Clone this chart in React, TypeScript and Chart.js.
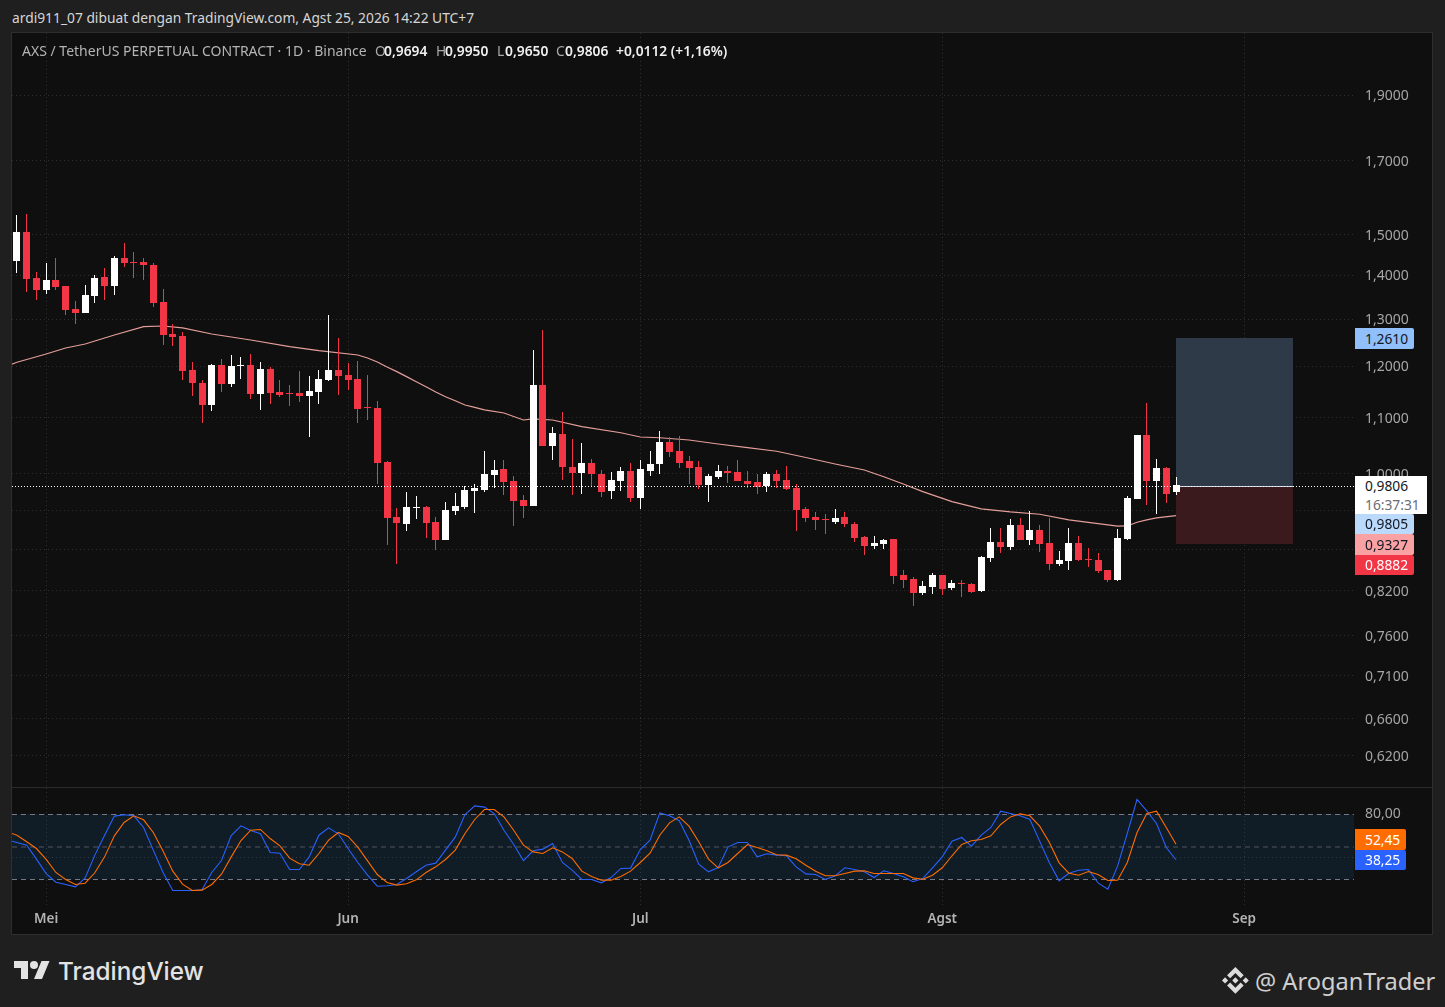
import React, { useEffect, useRef } from "react";
import { Chart, registerables } from "chart.js";

Chart.register(...registerables);

// ---- price data (AXS/USDT 1D), 28 Apr .. 25 Agst
const opens = [1.4344,1.5066,1.3936,1.3655,1.3889,1.3748,1.3222,1.3133,1.3517,1.3960,1.3748,1.4417,1.4319,1.4319,1.4247,1.3380,1.2674,1.2631,1.1923,1.1664,1.1237,1.2026,1.1644,1.2005,1.2026,1.1448,1.1943,1.1487,1.1467,1.1467,1.1409,1.1487,1.1723,1.1923,1.1823,1.1743,1.1199,1.1180,1.0203,.9295,.9185,.9438,.9454,.9216,.8939,.9390,.9454,.9713,.9730,.9980,1.0083,.9879,.9566,.9470,1.1624,1.0483,1.0698,1.0117,1.0014,1.0185,.9997,.9713,.9879,1.0048,.9599,1.0048,1.0168,1.0554,1.0395,1.0220,1.0117,.9812,.9946,1.0048,1.0031,.9879,.9862,.9796,.9997,.9896,.9763,.9422,.9295,.9264,.9216,.9295,.9185,.8985,.8849,.8879,.8954,.8425,.8368,.8172,.8255,.8425,.8241,.8311,.8297,.8200,.8671,.8909,.8834,.9170,.8939,.9092,.8894,.8583,.8627,.8894,.8657,.8642,.8497,.8353,.8954,.9583,1.0680,.9879,1.0100,.9694];
const highs = [1.5507,1.5533,1.4079,1.4295,1.4417,1.3748,1.3403,1.3772,1.4007,1.4174,1.4466,1.4788,1.4564,1.4417,1.4295,1.3678,1.2891,1.2717,1.2087,1.1723,1.2046,1.2149,1.2231,1.2190,1.2252,1.2087,1.1984,1.1723,1.1624,1.1903,1.1803,1.1923,1.3089,1.2589,1.2066,1.2107,1.1823,1.1313,1.0220,.9438,.9697,.9632,.9470,.9295,.9534,.9680,.9796,.9829,1.0395,1.0237,1.0237,.9963,.9648,1.2335,1.2760,1.0826,1.1105,1.0608,1.0536,1.0254,1.0065,1.0031,1.0117,1.0185,1.0237,1.0395,1.0752,1.0644,1.0662,1.0307,1.0220,.9997,1.0151,1.0134,1.0237,1.0048,.9997,1.0031,1.0065,1.0134,.9829,.9454,.9374,.9342,.9422,.9374,.9216,.9000,.9000,.8954,.8954,.8497,.8396,.8339,.8453,.8425,.8353,.8353,.8311,.8700,.9123,.9123,.9264,.9279,.9390,.9170,.9279,.8775,.9123,.9000,.8820,.8745,.8497,.9108,.9632,1.0680,1.1275,1.0254,1.0117,.9950];
const lows = [1.4055,1.3609,1.3426,1.3563,1.3655,1.3089,1.2891,1.3133,1.3358,1.3426,1.3540,1.4198,1.3936,1.3889,1.3267,1.2440,1.2419,1.1723,1.1409,1.0900,1.1124,1.1487,1.1585,1.1743,1.1352,1.1143,1.1256,1.1390,1.1218,1.1294,1.0644,1.1256,1.1703,1.1429,1.1525,1.0900,1.0955,.9829,.8864,.8583,.9077,.9264,.8970,.8789,.8939,.9326,.9422,.9358,.9697,.9763,.9648,.9154,.9279,.9470,1.0483,1.0237,.9896,.9648,.9664,.9796,.9616,.9583,.9713,.9534,.9422,.9963,.9997,1.0289,1.0100,.9829,.9746,.9534,.9913,.9846,.9879,.9763,.9664,.9697,.9763,.9730,.9077,.9216,.9092,.9031,.9185,.9139,.8909,.8715,.8805,.8805,.8297,.8241,.7994,.8144,.8158,.8144,.8213,.8117,.8172,.8186,.8612,.8745,.8789,.8939,.8864,.8760,.8497,.8554,.8497,.8627,.8540,.8453,.8325,.8339,.8939,.9583,.9486,.9342,.9518,.9650];
const closes = [1.5066,1.3913,1.3655,1.3889,1.3725,1.3200,1.3133,1.3540,1.3936,1.3748,1.4417,1.4295,1.4295,1.4247,1.3358,1.2653,1.2610,1.1903,1.1664,1.1237,1.2026,1.1644,1.2005,1.2026,1.1448,1.1943,1.1467,1.1429,1.1448,1.1409,1.1506,1.1743,1.1923,1.1803,1.1723,1.1161,1.1180,1.0185,.9279,.9201,.9454,.9454,.9201,.8939,.9406,.9470,.9730,.9763,.9997,1.0065,.9862,.9550,.9470,1.1624,1.0483,1.0716,1.0117,1.0014,1.0185,.9997,.9697,.9896,1.0048,.9599,1.0083,1.0168,1.0554,1.0377,1.0185,1.0100,.9812,.9963,1.0048,1.0014,.9879,.9829,.9779,.9997,.9879,.9746,.9406,.9279,.9248,.9248,.9279,.9185,.8970,.8849,.8894,.8939,.8410,.8353,.8172,.8269,.8425,.8227,.8311,.8297,.8186,.8685,.8909,.8834,.9170,.8939,.9092,.8879,.8583,.8642,.8894,.8642,.8642,.8482,.8353,.8970,.9599,1.0680,.9879,1.0100,.9664,.9806];

// moving average, read at these candle numbers
const maIdx = [-1,0,3,5,7,10,13,15,17,20,24,28,31,35,36,37,38,39,40,41,42,43,44,45,46,47,48,50,52,53,55,58,62,64,66,69,72,75,78,81,84,87,89,91,93,96,99,102,105,108,111,113,114,115,116,117,119];
const maVal = [1.2005,1.2081,1.2252,1.2377,1.2461,1.2653,1.2832,1.2847,1.2804,1.2674,1.2546,1.2405,1.2321,1.2231,1.2168,1.2087,1.1984,1.1891,1.1790,1.1690,1.1591,1.1487,1.1396,1.1318,1.1237,1.1193,1.1143,1.1086,1.0955,1.0974,1.0955,1.0831,1.0720,1.0644,1.0630,1.0590,1.0518,1.0453,1.0390,1.0280,1.0168,1.0065,.9951,.9829,.9702,.9540,.9422,.9374,.9337,.9248,.9191,.9150,.9154,.9211,.9248,.9279,.9315];

// stochastic RSI
const stochK = [54.2,51.7,38.8,25.5,17.5,15.4,13.2,21.5,42.5,60.9,78.5,79.7,78.8,68.0,47.1,26.5,9.8,9.8,9.8,10.5,26.5,37.5,60.6,69.5,65.2,62.2,44.9,44.3,29.2,29.2,40.9,60.9,67.7,62.2,48.6,35.7,24.0,13.8,14.2,15.4,20.9,27.1,33.2,35.1,47.1,59.1,80.0,88.0,86.8,80.9,65.5,52.3,37.5,46.5,48.0,53.2,35.7,28.6,20.0,20.0,16.9,21.8,30.2,30.5,47.7,56.3,81.5,78.8,74.2,56.3,34.2,27.1,31.1,49.9,54.2,54.2,40.9,43.7,42.5,41.9,31.7,25.2,24.6,20.0,23.4,30.8,29.2,27.1,21.8,28.0,25.5,22.5,17.9,20.9,30.8,40.9,55.4,58.8,50.8,60.9,68.0,83.1,80.9,78.8,75.4,55.4,35.4,18.8,25.8,28.6,29.2,16.9,11.1,32.3,62.5,93.9,83.4,71.7,49.5,38.25];
const stochD = [60.9,54.8,48.6,38.5,26.5,20.0,15.4,16.6,26.2,40.9,60.3,72.6,78.8,75.1,63.4,46.2,27.7,15.7,9.8,10.2,15.4,24.9,40.9,56.0,65.5,66.2,57.8,51.1,39.7,34.5,33.2,44.0,56.3,63.4,59.7,49.9,37.2,24.6,17.2,14.8,16.0,19.7,26.5,31.7,38.5,47.1,62.5,75.4,84.6,84.6,77.8,65.5,51.7,45.5,44.0,49.2,45.5,39.4,27.7,22.8,19.4,19.4,22.8,27.7,35.7,44.3,60.9,72.3,77.8,69.2,54.8,38.8,30.8,35.7,44.0,52.3,49.5,46.5,42.8,42.5,39.1,33.2,27.7,23.4,23.4,25.5,27.7,28.0,25.5,25.5,25.5,25.5,21.5,20.3,24.0,30.8,41.9,52.3,55.7,56.9,60.3,70.8,77.8,80.6,78.8,69.2,54.2,35.4,25.8,24.0,27.4,24.6,19.1,19.4,35.7,63.4,81.0,83.1,68.0,52.45];
const stochKBefore = 56.3;
const stochDBefore = 64.0;

// axes
const priceTicks = [0.62,0.66,0.71,0.76,0.82,0.88,0.94,1.0,1.1,1.2,1.3,1.4,1.5,1.7,1.9];
const stochTicks = [40,80];
const stochLevels = [80,50,20];
const monthIdx = [3,34,64,95,126];
const monthNames = ["Mei","Jun","Jul","Agst","Sep"];

// long position drawing
const posEntry = 0.9806;
const posTarget = 1.2582;
const posStop = 0.8882;
const posFrom = 119;
const posTo = 131;
const lastPrice = 0.9806;

const priceTags = [
  { text: "1,2610", top: 328, h: 21, bg: "#90bff9", fg: "#131722" },
  { text: "0,9805", top: 514, h: 20, bg: "#bbd9fb", fg: "#131722" },
  { text: "0,9327", top: 534, h: 21, bg: "#faa1a4", fg: "#131722" },
  { text: "0,8882", top: 555, h: 20, bg: "#f23645", fg: "#ffffff" },
  { text: "52,45", top: 829, h: 21, bg: "#ff6d00", fg: "#ffffff" },
  { text: "38,25", top: 850, h: 20, bg: "#2962ff", fg: "#ffffff" },
];

const legendParts = [
  { t: "O", x: 375, c: "#a8a8a8" }, { t: "0,9694", x: 384, c: "#f0f0f0" },
  { t: "H", x: 436, c: "#a8a8a8" }, { t: "0,9950", x: 445, c: "#f0f0f0" },
  { t: "L", x: 497, c: "#a8a8a8" }, { t: "0,9650", x: 505, c: "#f0f0f0" },
  { t: "C", x: 556, c: "#a8a8a8" }, { t: "0,9806", x: 565, c: "#f0f0f0" },
  { t: "+0,0112 (+1,16%)", x: 616, c: "#f0f0f0" },
];

const UP = "#ffffff";
const DOWN = "#f23645";
const GRID = "#303030";
const TICK = "#a6a6a6";
const FONT = '"Noto Sans", sans-serif';
const xMin = -0.508;
const xMax = 137.275;

const candleColors = closes.map((c, i) => (c >= opens[i] ? UP : DOWN));

const snapBars = {
  id: "snapBars",
  afterDatasetsUpdate(chart: any) {
    chart.data.datasets.forEach((ds: any, n: number) => {
      if (ds.type !== "bar") return;
      chart.getDatasetMeta(n).data.forEach((el: any) => {
        el.x = Math.round(el.x - 0.5) + 0.5;
        el.y = Math.round(el.y);
        el.base = Math.round(el.base);
        if (el.y === el.base) el.base += 1;
      });
    });
  },
};

const positionBox = {
  id: "positionBox",
  beforeDatasetsDraw(chart: any) {
    const { ctx, scales } = chart;
    const x0 = Math.round(scales.x.getPixelForValue(posFrom));
    const x1 = Math.round(scales.x.getPixelForValue(posTo));
    const yT = Math.round(scales.y.getPixelForValue(posTarget));
    const yE = Math.ceil(scales.y.getPixelForValue(posEntry));
    const yS = Math.round(scales.y.getPixelForValue(posStop));
    ctx.save();
    ctx.fillStyle = "#2e3a48";
    ctx.fillRect(x0, yT, x1 - x0, yE - yT);
    ctx.fillStyle = "#3a1a1c";
    ctx.fillRect(x0, yE, x1 - x0, yS - yE);
    ctx.fillStyle = "#c9d6e4";
    ctx.fillRect(x0, yE, x1 - x0, 1);
    ctx.restore();
  },
  afterDatasetsDraw(chart: any) {
    const { ctx, scales, chartArea } = chart;
    const y = Math.ceil(scales.y.getPixelForValue(lastPrice)) + 0.5;
    ctx.save();
    ctx.strokeStyle = "#ffffff";
    ctx.lineWidth = 1;
    ctx.setLineDash([1, 2]);
    ctx.beginPath();
    ctx.moveTo(chartArea.left, y);
    ctx.lineTo(chartArea.right, y);
    ctx.stroke();
    ctx.restore();
  },
};

const noPadding = (s: any) => {
  s.paddingTop = 0;
  s.paddingBottom = 0;
  s.paddingLeft = 0;
  s.paddingRight = 0;
};

function monthAxis(showLabels: boolean, height: number) {
  return {
    type: "linear",
    position: "bottom",
    bounds: "data",
    min: xMin,
    max: xMax,
    offset: false,
    grid: { color: GRID, drawTicks: false, offset: false },
    border: { display: false, dash: [1, 3] },
    ticks: {
      display: showLabels,
      autoSkip: false,
      maxRotation: 0,
      padding: 6,
      color: "#b4b4b4",
      font: { family: FONT, size: 13.5, weight: "600" },
      callback: (_v: any, i: number) => monthNames[i],
    },
    afterBuildTicks: (s: any) => { s.ticks = monthIdx.map((value) => ({ value })); },
    afterFit: (s: any) => { s.height = height; noPadding(s); },
  };
}

function valueAxis(ticks: number[], fmt: (v: number) => string, labelOffset: number, extra: any) {
  return {
    position: "right",
    bounds: "data",
    grid: { color: GRID, drawTicks: false },
    border: { display: false, dash: [1, 3] },
    ticks: {
      autoSkip: false,
      padding: 11,
      labelOffset,
      color: TICK,
      font: { family: FONT, size: 14 },
      callback: (v: any) => fmt(Number(v)),
    },
    afterBuildTicks: (s: any) => { s.ticks = ticks.map((value) => ({ value })); },
    afterFit: (s: any) => { s.width = 79; noPadding(s); },
    ...extra,
  };
}

const comma = (v: number, d: number) => v.toFixed(d).replace(".", ",");
const abs = (left: number, top: number, extra: any = {}): React.CSSProperties => ({
  position: "absolute", left, top, whiteSpace: "pre", ...extra,
});

export default function App() {
  const priceRef = useRef<HTMLCanvasElement>(null);
  const stochRef = useRef<HTMLCanvasElement>(null);

  useEffect(() => {
    const base = {
      responsive: false,
      animation: false,
      devicePixelRatio: 1,
      events: [],
      layout: { padding: 0 },
      plugins: { legend: { display: false }, tooltip: { enabled: false } },
    };
    const price = new Chart(priceRef.current as any, {
      type: "bar",
      data: {
        datasets: [
          {
            type: "bar", order: 1, grouped: false, barThickness: 7, borderWidth: 0, inflateAmount: 0,
            backgroundColor: candleColors,
            data: opens.map((o, i) => ({ x: i, y: [o, closes[i]] })),
          },
          {
            type: "bar", order: 2, grouped: false, barThickness: 1, borderWidth: 0, inflateAmount: 0,
            backgroundColor: candleColors,
            data: lows.map((l, i) => ({ x: i, y: [l, highs[i]] })),
          },
          {
            type: "line", order: 3, borderColor: "#e49e99", borderWidth: 1.2, pointRadius: 0, tension: 0,
            data: maIdx.map((x, i) => ({ x, y: maVal[i] })),
          },
        ],
      },
      options: {
        ...base,
        scales: {
          x: monthAxis(false, 0),
          y: valueAxis(priceTicks, (v) => comma(v, 4), 1, { type: "logarithmic", min: 0.58811, max: 2.1109 }),
        },
      },
      plugins: [snapBars, positionBox],
    } as any);

    const level = (v: number) => [{ x: xMin, y: v }, { x: xMax, y: v }];
    const series = (before: number, vals: number[]) => [{ x: -1, y: before }, ...vals.map((y, x) => ({ x, y }))];
    const stoch = new Chart(stochRef.current as any, {
      type: "line",
      data: {
        datasets: [
          {
            order: 5, data: level(stochLevels[0]), borderColor: "#787b86", borderWidth: 1, borderDash: [5, 4],
            pointRadius: 0, fill: 2, backgroundColor: "rgba(33,150,243,0.1)",
          },
          {
            order: 4, data: level(stochLevels[1]), borderColor: "#55575f", borderWidth: 1, borderDash: [5, 4],
            pointRadius: 0,
          },
          {
            order: 3, data: level(stochLevels[2]), borderColor: "#787b86", borderWidth: 1, borderDash: [5, 4],
            pointRadius: 0,
          },
          {
            order: 2, borderColor: "#2962ff", borderWidth: 1.1, pointRadius: 0, tension: 0,
            data: series(stochKBefore, stochK),
          },
          {
            order: 1, borderColor: "#ff6d00", borderWidth: 1.1, pointRadius: 0, tension: 0,
            data: series(stochDBefore, stochD),
          },
        ],
      },
      options: {
        ...base,
        scales: {
          x: monthAxis(true, 29),
          y: valueAxis(stochTicks, (v) => comma(v, 2), 0, { type: "linear", min: -3.54, max: 104.46 }),
        },
      },
    } as any);

    return () => {
      price.destroy();
      stoch.destroy();
    };
  }, []);

  const text: React.CSSProperties = { fontFamily: FONT, fontSize: 13.8, lineHeight: "18px" };

  return (
    <div style={{ position: "absolute", left: 0, top: 0, width: 1445, height: 1007, background: "#1f1f1f", overflow: "hidden" }}>
      <div style={abs(12, 9, { ...text, color: "#d6d6d6" })}>ardi911_07 dibuat dengan TradingView.com, Agst 25, 2026 14:22 UTC+7</div>

      <div style={abs(11, 32, { width: 1422, height: 903, boxSizing: "border-box", background: "#0f0f0f", border: "1px solid #2e2e2e" })} />
      <div style={abs(12, 787, { width: 1421, height: 1, background: "#2a2a2a" })} />

      <canvas ref={priceRef} width={1421} height={754} style={abs(12, 33, { display: "block" })} />
      <canvas ref={stochRef} width={1421} height={146} style={abs(12, 788, { display: "block" })} />

      <div style={abs(22, 42, { ...text, fontSize: 14, color: "#b4b4b4" })}>AXS / TetherUS PERPETUAL CONTRACT · 1D · Binance</div>
      {legendParts.map((p) => (
        <div key={p.t + p.x} style={abs(p.x, 42, { ...text, color: p.c, fontWeight: p.c === "#f0f0f0" ? 600 : 400 })}>{p.t}</div>
      ))}

      {priceTags.map((t) => (
        <div
          key={t.text}
          style={abs(1355, t.top, {
            ...text, width: t.text.length === 5 ? 51 : 59, height: t.h, lineHeight: t.h + "px", paddingLeft: 10,
            boxSizing: "border-box", background: t.bg, color: t.fg, borderRadius: "0 2px 2px 0",
          })}
        >
          {t.text}
        </div>
      ))}
      <div style={abs(1355, 476, { ...text, width: 72, height: 38, paddingLeft: 10, boxSizing: "border-box", background: "#ffffff", color: "#131722", lineHeight: "19px" })}>
        0,9806
        <div style={{ color: "#6a6d78" }}>16:37:31</div>
      </div>

      <svg style={abs(14, 957)} width={36} height={28} viewBox="0 0 36 28">
        <path fill="#e3e3e3" d="M14 22H7V11H0V4h14v18zM28 22h-8l7.5-18h8L28 22z" />
        <circle fill="#e3e3e3" cx="20" cy="8" r="4" />
      </svg>
      <div style={abs(58, 955, { fontFamily: "Inter, sans-serif", fontWeight: 500, fontSize: 24.3, lineHeight: "32px", color: "#e3e3e3" })}>TradingView</div>

      <svg style={abs(1222, 967)} width={27} height={27} viewBox="0 0 126.61 126.61">
        <path fill="#dcdcdc" d="M38.171 53.203L62.759 28.616l24.6 24.6 14.306-14.307L62.759 0 23.864 38.896zM0 62.759l14.307-14.307 14.306 14.307-14.306 14.306zM38.171 72.315l24.588 24.587 24.6-24.6 14.313 14.3-38.913 38.913L23.864 86.62zM96.906 62.765l14.307-14.307 14.306 14.306-14.306 14.307zM77.269 62.752L62.759 48.24 52.023 58.976l-1.24 1.24-2.54 2.54 14.516 14.515 14.51-14.52z" />
      </svg>
      <div style={abs(1255, 963, { fontFamily: FONT, fontSize: 23.6, lineHeight: "36px", color: "#cfcfcf" })}>@ AroganTrader</div>
    </div>
  );
}
